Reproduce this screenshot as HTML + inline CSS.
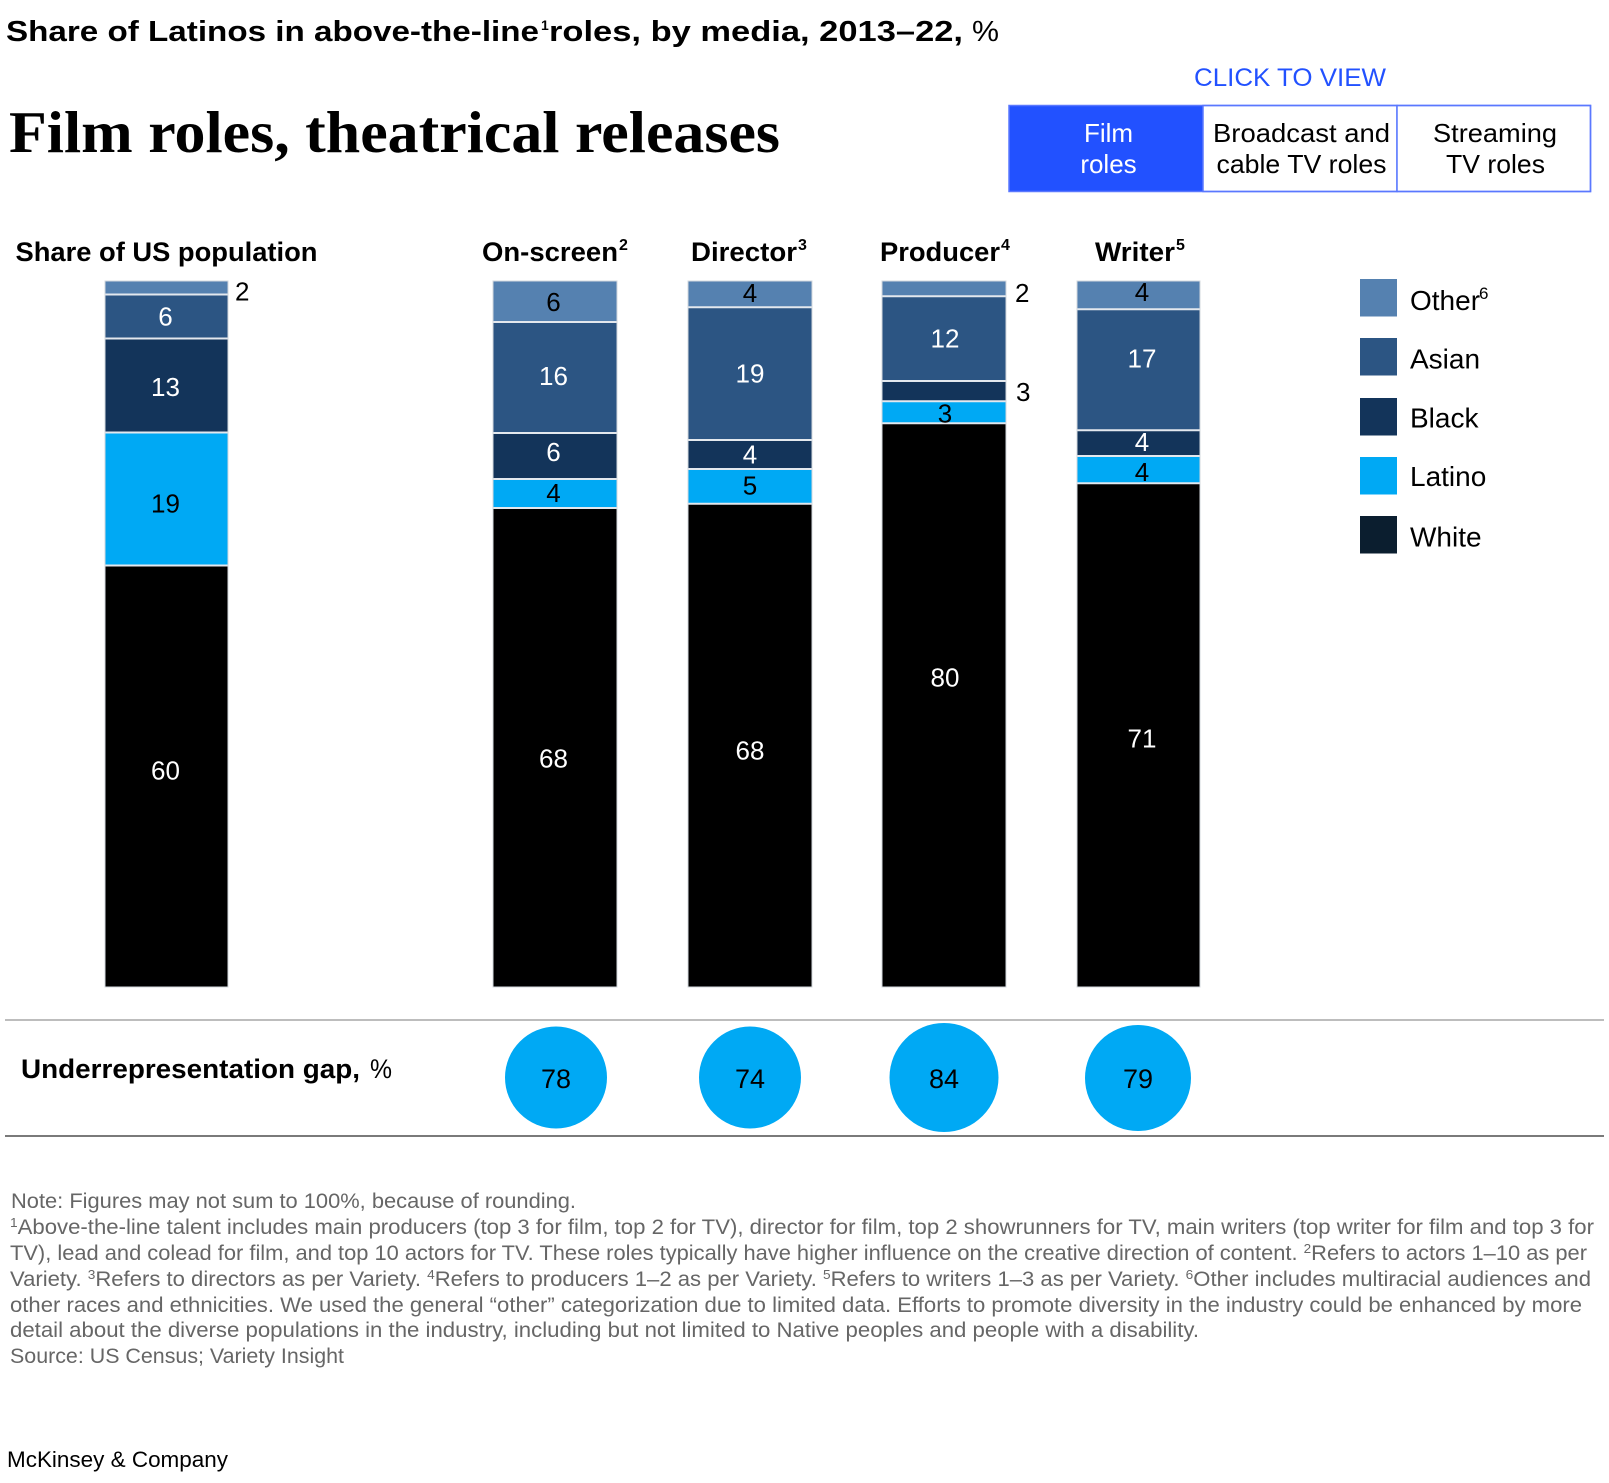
<!DOCTYPE html>
<html>
<head>
<meta charset="utf-8">
<style>
  html, body { margin: 0; padding: 0; background: #ffffff; }
  svg { display: block; }
  text { font-family: "Liberation Sans", Arial, sans-serif; }
  .serif { font-family: "Liberation Serif", "Times New Roman", serif; }
  .b { font-weight: bold; }
  .num { font-size: 26px; text-anchor: middle; }
  .wt { fill: #ffffff; }
  .bk { fill: #000000; }
  .note { font-size: 21px; fill: #666666; }
</style>
</head>
<body>
<svg xmlns="http://www.w3.org/2000/svg" width="1609" height="1483" viewBox="0 0 1609 1483">
  <rect x="0" y="0" width="1609" height="1483" fill="#ffffff"/>

  <!-- Top title -->
  <text x="6" y="41" class="b" font-size="29" textLength="533" lengthAdjust="spacingAndGlyphs">Share of Latinos in above-the-line</text>
  <text x="541" y="30" class="b" font-size="14">1</text>
  <text x="549" y="41" class="b" font-size="29" textLength="414" lengthAdjust="spacingAndGlyphs">roles, by media, 2013–22,</text>
  <text x="972" y="41" font-size="29" textLength="27" lengthAdjust="spacingAndGlyphs">%</text>

  <!-- Main serif title -->
  <text x="9" y="152" class="serif b" font-size="59" textLength="771" lengthAdjust="spacingAndGlyphs">Film roles, theatrical releases</text>

  <!-- Click to view -->
  <text x="1194" y="86" font-size="25" fill="#2251ff" textLength="192" lengthAdjust="spacingAndGlyphs">CLICK TO VIEW</text>

  <!-- Tabs -->
  <rect x="1009" y="105.5" width="194" height="86" fill="#2251ff"/>
  <rect x="1203" y="105.5" width="194" height="86" fill="#ffffff" stroke="#5a78ff" stroke-width="1.5"/>
  <rect x="1397" y="105.5" width="193.5" height="86" fill="#ffffff" stroke="#5a78ff" stroke-width="1.5"/>
  <rect x="1009" y="105.5" width="581.5" height="86" fill="none" stroke="#5a78ff" stroke-width="1.5"/>
  <text x="1108.5" y="142" font-size="26" fill="#ffffff" text-anchor="middle">Film</text>
  <text x="1108.5" y="173" font-size="26" fill="#ffffff" text-anchor="middle">roles</text>
  <text x="1213" y="142" font-size="26" fill="#000" textLength="177" lengthAdjust="spacingAndGlyphs">Broadcast and</text>
  <text x="1216.5" y="173" font-size="26" fill="#000" textLength="170" lengthAdjust="spacingAndGlyphs">cable TV roles</text>
  <text x="1433" y="142" font-size="26" fill="#000" textLength="124" lengthAdjust="spacingAndGlyphs">Streaming</text>
  <text x="1446" y="173" font-size="26" fill="#000" textLength="99" lengthAdjust="spacingAndGlyphs">TV roles</text>

  <!-- Column headers -->
  <text x="15.5" y="261" class="b" font-size="27" textLength="302" lengthAdjust="spacingAndGlyphs">Share of US population</text>
  <text x="482" y="261" class="b" font-size="27" textLength="136" lengthAdjust="spacingAndGlyphs">On-screen</text>
  <text x="619" y="250" class="b" font-size="16">2</text>
  <text x="691" y="261" class="b" font-size="27" textLength="106" lengthAdjust="spacingAndGlyphs">Director</text>
  <text x="798" y="250" class="b" font-size="16">3</text>
  <text x="880" y="261" class="b" font-size="27" textLength="120" lengthAdjust="spacingAndGlyphs">Producer</text>
  <text x="1001" y="250" class="b" font-size="16">4</text>
  <text x="1095" y="261" class="b" font-size="27" textLength="80" lengthAdjust="spacingAndGlyphs">Writer</text>
  <text x="1176" y="250" class="b" font-size="16">5</text>

  <!-- Bar: Share of US population -->
  <g>
    <rect x="105" y="281" width="123" height="13.5" fill="#5581b0"/>
    <rect x="105" y="294.5" width="123" height="44" fill="#2c5583"/>
    <rect x="105" y="338.5" width="123" height="94" fill="#13345a"/>
    <rect x="105" y="432.5" width="123" height="133" fill="#00a9f4"/>
    <rect x="105" y="565.5" width="123" height="421.5" fill="#000000"/>
    <g stroke="#e3e8ee" stroke-width="2">
      <line x1="105" y1="294.5" x2="228" y2="294.5"/>
      <line x1="105" y1="338.5" x2="228" y2="338.5"/>
      <line x1="105" y1="432.5" x2="228" y2="432.5"/>
      <line x1="105" y1="565.5" x2="228" y2="565.5"/>
    </g>
    <rect x="105" y="281" width="123" height="706" fill="none" stroke="#d3d8de" stroke-width="1"/>
    <text x="235" y="300.5" font-size="26" class="bk">2</text>
    <text x="165.5" y="325.5" class="num wt">6</text>
    <text x="165.5" y="396" class="num wt">13</text>
    <text x="165.5" y="512.5" class="num bk">19</text>
    <text x="165.5" y="779.5" class="num wt">60</text>
  </g>

  <!-- Bar: On-screen -->
  <g>
    <rect x="493" y="281" width="124" height="41" fill="#5581b0"/>
    <rect x="493" y="322" width="124" height="111" fill="#2c5583"/>
    <rect x="493" y="433" width="124" height="46" fill="#13345a"/>
    <rect x="493" y="479" width="124" height="29" fill="#00a9f4"/>
    <rect x="493" y="508" width="124" height="479" fill="#000000"/>
    <g stroke="#e3e8ee" stroke-width="2">
      <line x1="493" y1="322" x2="617" y2="322"/>
      <line x1="493" y1="433" x2="617" y2="433"/>
      <line x1="493" y1="479" x2="617" y2="479"/>
      <line x1="493" y1="508" x2="617" y2="508"/>
    </g>
    <rect x="493" y="281" width="124" height="706" fill="none" stroke="#d3d8de" stroke-width="1"/>
    <text x="553.5" y="311" class="num bk">6</text>
    <text x="553.5" y="385" class="num wt">16</text>
    <text x="553.5" y="461" class="num wt">6</text>
    <text x="553.5" y="502" class="num bk">4</text>
    <text x="553.5" y="767.5" class="num wt">68</text>
  </g>

  <!-- Bar: Director -->
  <g>
    <rect x="688" y="281" width="124" height="26.3" fill="#5581b0"/>
    <rect x="688" y="307.3" width="124" height="132.7" fill="#2c5583"/>
    <rect x="688" y="440" width="124" height="29" fill="#13345a"/>
    <rect x="688" y="469" width="124" height="34.7" fill="#00a9f4"/>
    <rect x="688" y="503.7" width="124" height="483.3" fill="#000000"/>
    <g stroke="#e3e8ee" stroke-width="2">
      <line x1="688" y1="307.3" x2="812" y2="307.3"/>
      <line x1="688" y1="440" x2="812" y2="440"/>
      <line x1="688" y1="469" x2="812" y2="469"/>
      <line x1="688" y1="503.7" x2="812" y2="503.7"/>
    </g>
    <rect x="688" y="281" width="124" height="706" fill="none" stroke="#d3d8de" stroke-width="1"/>
    <text x="750" y="302" class="num bk">4</text>
    <text x="750" y="382.5" class="num wt">19</text>
    <text x="750" y="463.5" class="num wt">4</text>
    <text x="750" y="494.5" class="num bk">5</text>
    <text x="750" y="759.5" class="num wt">68</text>
  </g>

  <!-- Bar: Producer -->
  <g>
    <rect x="882" y="281" width="124" height="15.3" fill="#5581b0"/>
    <rect x="882" y="296.3" width="124" height="84.7" fill="#2c5583"/>
    <rect x="882" y="381" width="124" height="20.3" fill="#13345a"/>
    <rect x="882" y="401.3" width="124" height="22" fill="#00a9f4"/>
    <rect x="882" y="423.3" width="124" height="563.7" fill="#000000"/>
    <g stroke="#e3e8ee" stroke-width="2">
      <line x1="882" y1="296.3" x2="1006" y2="296.3"/>
      <line x1="882" y1="381" x2="1006" y2="381"/>
      <line x1="882" y1="401.3" x2="1006" y2="401.3"/>
      <line x1="882" y1="423.3" x2="1006" y2="423.3"/>
    </g>
    <rect x="882" y="281" width="124" height="706" fill="none" stroke="#d3d8de" stroke-width="1"/>
    <text x="1015" y="302" font-size="26" class="bk">2</text>
    <text x="945" y="347.5" class="num wt">12</text>
    <text x="1016" y="401" font-size="26" class="bk">3</text>
    <text x="945" y="422.5" class="num bk">3</text>
    <text x="945" y="686.5" class="num wt">80</text>
  </g>

  <!-- Bar: Writer -->
  <g>
    <rect x="1077" y="281" width="123" height="28.3" fill="#5581b0"/>
    <rect x="1077" y="309.3" width="123" height="121" fill="#2c5583"/>
    <rect x="1077" y="430.3" width="123" height="25.7" fill="#13345a"/>
    <rect x="1077" y="456" width="123" height="27.3" fill="#00a9f4"/>
    <rect x="1077" y="483.3" width="123" height="503.7" fill="#000000"/>
    <g stroke="#e3e8ee" stroke-width="2">
      <line x1="1077" y1="309.3" x2="1200" y2="309.3"/>
      <line x1="1077" y1="430.3" x2="1200" y2="430.3"/>
      <line x1="1077" y1="456" x2="1200" y2="456"/>
      <line x1="1077" y1="483.3" x2="1200" y2="483.3"/>
    </g>
    <rect x="1077" y="281" width="123" height="706" fill="none" stroke="#d3d8de" stroke-width="1"/>
    <text x="1142" y="301" class="num bk">4</text>
    <text x="1142" y="367.5" class="num wt">17</text>
    <text x="1142" y="451" class="num wt">4</text>
    <text x="1142" y="481" class="num bk">4</text>
    <text x="1142" y="747.5" class="num wt">71</text>
  </g>

  <!-- Legend -->
  <rect x="1360" y="279" width="37" height="37.5" fill="#5581b0"/>
  <rect x="1360" y="338" width="37" height="37.5" fill="#2c5583"/>
  <rect x="1360" y="398" width="37" height="37.5" fill="#13345a"/>
  <rect x="1360" y="457" width="37" height="37.5" fill="#00a9f4"/>
  <rect x="1360" y="516" width="37" height="37.5" fill="#0b1e2f"/>
  <text x="1410" y="310" font-size="28" fill="#000">Other</text>
  <text x="1479" y="299" font-size="17" fill="#000">6</text>
  <text x="1410" y="368.5" font-size="28" fill="#000">Asian</text>
  <text x="1410" y="427.5" font-size="28" fill="#000">Black</text>
  <text x="1410" y="486" font-size="28" fill="#000">Latino</text>
  <text x="1410" y="546.5" font-size="28" fill="#000">White</text>

  <!-- Rules -->
  <line x1="5" y1="1020" x2="1604" y2="1020" stroke="#bdbdbd" stroke-width="2"/>
  <line x1="5" y1="1136" x2="1604" y2="1136" stroke="#7a7a7a" stroke-width="2"/>

  <!-- Underrepresentation gap -->
  <text x="21" y="1078" class="b" font-size="27" textLength="339" lengthAdjust="spacingAndGlyphs">Underrepresentation gap,</text>
  <text x="370" y="1078" font-size="27" textLength="22" lengthAdjust="spacingAndGlyphs">%</text>

  <circle cx="556" cy="1077.5" r="51" fill="#00a9f4"/>
  <circle cx="750" cy="1077.5" r="51" fill="#00a9f4"/>
  <circle cx="944" cy="1077.5" r="54.5" fill="#00a9f4"/>
  <circle cx="1138" cy="1078" r="53" fill="#00a9f4"/>
  <text x="556" y="1088" font-size="27" text-anchor="middle" fill="#000">78</text>
  <text x="750" y="1088" font-size="27" text-anchor="middle" fill="#000">74</text>
  <text x="944" y="1088" font-size="27" text-anchor="middle" fill="#000">84</text>
  <text x="1138" y="1088" font-size="27" text-anchor="middle" fill="#000">79</text>

  <!-- Notes -->
  <text x="11" y="1208" class="note" textLength="565" lengthAdjust="spacingAndGlyphs">Note: Figures may not sum to 100%, because of rounding.</text>
  <text x="10" y="1234" class="note" textLength="1584" lengthAdjust="spacingAndGlyphs"><tspan font-size="13" dy="-7">1</tspan><tspan dy="7">Above-the-line talent includes main producers (top 3 for film, top 2 for TV), director for film, top 2 showrunners for TV, main writers (top writer for film and top 3 for</tspan></text>
  <text x="10" y="1260" class="note" textLength="1577" lengthAdjust="spacingAndGlyphs">TV), lead and colead for film, and top 10 actors for TV. These roles typically have higher influence on the creative direction of content. <tspan font-size="13" dy="-7">2</tspan><tspan dy="7">Refers to actors 1–10 as per</tspan></text>
  <text x="10" y="1286" class="note" textLength="1581" lengthAdjust="spacingAndGlyphs">Variety. <tspan font-size="13" dy="-7">3</tspan><tspan dy="7">Refers to directors as per Variety. </tspan><tspan font-size="13" dy="-7">4</tspan><tspan dy="7">Refers to producers 1–2 as per Variety. </tspan><tspan font-size="13" dy="-7">5</tspan><tspan dy="7">Refers to writers 1–3 as per Variety. </tspan><tspan font-size="13" dy="-7">6</tspan><tspan dy="7">Other includes multiracial audiences and</tspan></text>
  <text x="10" y="1312" class="note" textLength="1572" lengthAdjust="spacingAndGlyphs">other races and ethnicities. We used the general “other” categorization due to limited data. Efforts to promote diversity in the industry could be enhanced by more</text>
  <text x="10" y="1337" class="note" textLength="1189" lengthAdjust="spacingAndGlyphs">detail about the diverse populations in the industry, including but not limited to Native peoples and people with a disability.</text>
  <text x="10" y="1363" class="note" textLength="334" lengthAdjust="spacingAndGlyphs">Source: US Census; Variety Insight</text>

  <!-- Footer -->
  <text x="7" y="1467" font-size="22.5" fill="#000" textLength="221" lengthAdjust="spacingAndGlyphs">McKinsey &amp; Company</text>
</svg>
</body>
</html>
